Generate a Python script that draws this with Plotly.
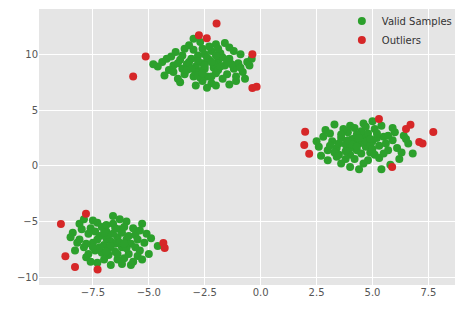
import plotly.graph_objects as go

# Valid samples, cluster near (-2.6, 9.2)
top_x = [-2.6,-2.3,-2.9,-2.1,-3.1,-2.5,-1.9,-2.7,-3.3,-2.2,
         -1.6,-3.5,-2.8,-2.0,-1.8,-3.6,-2.4,-1.4,-3.0,-2.6,
         -1.2,-3.9,-3.4,-2.2,-1.0,-4.1,-3.2,-2.0,-1.5,-4.4,
         -4.6,-0.8,-0.6,-1.1,-2.9,-3.7,-4.3,-0.9,-1.4,-2.7,
         -3.0,-2.4,-3.8,-1.7,-4.0,-2.5,-2.8,-2.1,-3.3,-1.7,
         -2.4,-3.0,-1.9,-2.6,-3.5,-1.3,-2.2,-3.2,-2.0,-2.9,
         -0.5,-0.7,-4.8,-1.6,-3.6,-2.0,-1.2,-3.9,-0.9,-2.3,
         -2.7,-1.8,-3.4,-1.5,-2.5,-3.1,-2.2,-2.8,-1.9,-4.2,
         -0.4,-1.1,-3.7,-2.6,-1.4]
top_y = [9.2,9.5,8.9,8.8,9.6,10.0,9.4,8.5,9.1,10.3,
         9.0,8.7,9.9,8.3,10.1,9.5,8.0,9.6,10.4,7.6,
         8.7,9.0,8.2,7.4,9.2,8.6,10.8,10.9,8.2,9.3,
         8.9,8.4,9.3,7.6,7.2,7.8,8.1,10.0,10.6,11.1,
         11.4,7.0,10.2,7.8,9.8,8.7,9.4,9.1,8.6,9.7,
         9.7,8.0,8.6,10.5,9.9,9.1,8.0,9.3,9.9,8.4,
         9.0,7.8,9.1,11.0,7.5,7.2,10.3,8.4,8.8,10.7,
         7.9,8.9,10.5,9.3,9.0,8.7,9.3,8.1,10.5,9.6,
         9.6,8.0,9.2,8.3,7.3]

# Valid samples, cluster near (4.4, 2.0)
right_x = [4.4,4.1,4.7,3.8,5.0,4.3,4.6,3.6,5.3,4.0,
           4.9,3.4,5.5,4.5,3.9,5.1,4.2,3.2,5.7,3.5,
           4.8,5.9,3.0,4.0,5.0,3.3,6.0,2.8,2.6,2.7,
           4.4,5.4,6.6,6.8,6.2,3.0,3.6,5.8,6.4,2.9,
           4.6,5.4,3.7,4.2,4.7,4.0,4.9,3.9,4.5,5.2,
           3.5,4.3,5.6,3.3,5.1,4.8,4.1,6.1,3.1,5.3,
           4.6,3.8,2.5,6.3,5.9,4.2,3.6,5.0,4.4,3.8,
           5.5,4.7,6.5,3.4,5.2,4.0,5.7,3.1,4.9,4.3]
right_y = [2.0,2.4,1.7,1.9,2.2,1.4,2.7,2.5,1.8,1.0,
           1.2,1.6,2.6,3.1,3.0,3.3,0.6,2.2,1.4,1.0,
           0.5,2.3,1.4,3.6,4.0,3.7,3.0,2.6,1.7,0.9,
           -0.3,-0.3,2.0,1.1,0.6,0.5,0.2,0.1,2.7,3.2,
           3.8,3.6,3.3,2.1,2.2,1.6,1.9,2.3,1.1,2.5,
           2.0,2.8,2.0,1.2,1.0,2.9,1.9,1.6,2.9,0.7,
           0.2,0.6,2.2,1.2,3.4,3.4,2.8,1.5,2.5,1.3,
           1.1,3.5,2.4,0.8,2.9,-0.1,2.7,1.8,2.4,1.7]

# Valid samples, cluster near (-6.7, -6.8)
low_x = [-6.7,-6.4,-7.0,-6.2,-7.2,-6.9,-6.5,-6.0,-7.5,-6.3,
         -7.4,-5.8,-7.7,-6.8,-5.6,-7.9,-6.1,-6.6,-7.1,-5.4,
         -8.1,-8.4,-8.3,-8.1,-6.6,-7.3,-6.7,-5.0,-5.1,-5.3,
         -4.6,-7.8,-5.7,-6.0,-7.5,-5.5,-8.0,-6.9,-6.5,-7.1,
         -6.2,-6.8,-7.3,-5.9,-6.4,-7.6,-5.7,-6.0,-7.0,-6.3,
         -6.6,-7.8,-5.2,-6.9,-7.4,-8.2,-5.5,-6.1,-7.2,-6.8,
         -5.8,-7.6,-4.9,-7.9,-6.4,-5.6,-7.0,-6.5,-8.5,-6.2,
         -7.7,-5.3,-6.7,-7.3,-5.9,-6.1,-6.9,-7.5,-5.4,-6.3]
low_y = [-6.8,-6.4,-7.1,-7.3,-6.3,-5.9,-7.7,-6.6,-6.9,-5.7,
         -7.6,-7.0,-6.1,-8.0,-6.2,-7.3,-8.3,-5.2,-5.5,-7.6,
         -6.6,-6.0,-7.6,-5.2,-4.5,-8.7,-8.9,-7.9,-6.1,-5.2,
         -7.2,-8.2,-8.6,-5.0,-4.9,-8.1,-5.7,-6.5,-7.0,-7.8,
         -6.0,-7.4,-6.6,-7.9,-8.4,-5.6,-5.6,-7.4,-8.4,-6.9,
         -6.1,-7.0,-6.9,-5.3,-5.9,-6.9,-6.6,-5.5,-7.3,-6.2,
         -8.9,-8.6,-6.5,-4.8,-7.9,-7.3,-6.0,-5.6,-6.4,-8.8,
         -7.9,-8.4,-7.2,-5.1,-6.3,-7.0,-7.7,-7.3,-5.8,-4.8]

valid_x = top_x + right_x + low_x
valid_y = top_y + right_y + low_y

outlier_x = [-1.97,-2.76,-2.41,-5.14,-0.37,-0.37,-0.18,-5.7,
             1.99,1.95,2.17,5.29,6.7,6.5,7.72,7.09,7.24,5.88,
             -8.93,-7.81,-8.73,-8.3,-7.29,-4.35,-4.29]
outlier_y = [12.75,11.7,11.44,9.8,10.0,6.97,7.08,8.0,
             3.06,1.87,1.09,4.19,3.69,3.3,3.03,2.14,2.01,-0.1,
             -5.23,-4.3,-8.12,-9.08,-9.31,-6.93,-7.38]

x_ticks = [-7.5, -5.0, -2.5, 0.0, 2.5, 5.0, 7.5]
y_ticks = [-10, -5, 0, 5, 10]

fig = go.Figure()
fig.add_trace(go.Scatter(x=valid_x, y=valid_y, mode="markers", name="Valid Samples",
                         marker=dict(color="#2ca02c", size=8, line=dict(width=0))))
fig.add_trace(go.Scatter(x=outlier_x, y=outlier_y, mode="markers", name="Outliers",
                         marker=dict(color="#d62728", size=8, line=dict(width=0))))

axis_common = dict(showgrid=True, gridcolor="white", gridwidth=1, zeroline=False,
                   showline=False, ticks="", ticklen=0,
                   tickfont=dict(family="DejaVu Sans", size=10, color="#555555"))
fig.update_layout(
    width=474, height=324,
    margin=dict(l=39, r=19, t=8, b=39),
    paper_bgcolor="white", plot_bgcolor="#E5E5E5",
    showlegend=True,
    legend=dict(x=0.728, y=1.005, xanchor="left", yanchor="top",
                bgcolor="rgba(0,0,0,0)", font=dict(family="DejaVu Sans", size=10, color="#333333"),
                itemsizing="trace", tracegroupgap=0),
    xaxis=dict(range=[-9.91, 8.69], tickvals=x_ticks,
               ticktext=[f"{v:.1f}".replace("-", "\u2212") for v in x_ticks], **axis_common),
    yaxis=dict(range=[-10.69, 14.06], tickvals=y_ticks,
               ticktext=[str(v).replace("-", "\u2212") for v in y_ticks], **axis_common),
)
fig.write_html("out.html")
